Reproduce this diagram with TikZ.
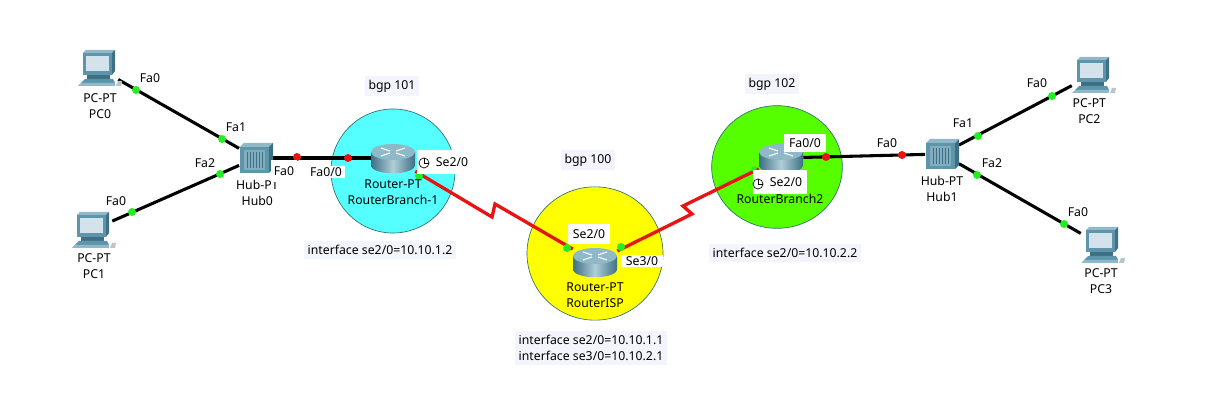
\documentclass[tikz,border=0pt]{standalone}
\usepackage{fontspec}
\setmainfont{Noto Sans}
\usetikzlibrary{shapes,positioning,calc}
\definecolor{zonecyan}{HTML}{55FFFF}
\definecolor{zoneyellow}{HTML}{FFFF00}
\definecolor{zonegreen}{HTML}{55FF00}
\definecolor{zoneline}{HTML}{2F6F6F}
\definecolor{linkred}{HTML}{E81414}
\definecolor{dotgreen}{HTML}{22EE22}
\definecolor{dotred}{HTML}{EE1111}
\definecolor{notebg}{HTML}{F4F5FC}
\definecolor{devmid}{HTML}{5F95AB}
\definecolor{devdark}{HTML}{3D7085}
\definecolor{devlight}{HTML}{8FB8C8}
\definecolor{devscreen}{HTML}{D3E2EB}
\tikzset{
  zone/.style={ellipse,draw=zoneline,line width=.5pt,inner sep=0pt},
  eth/.style={black,line width=2.3pt},
  serial/.style={linkred,line width=2.5pt},
  gdot/.style={circle,fill=dotgreen,inner sep=0pt,minimum size=6pt},
  rdot/.style={circle,fill=dotred,inner sep=0pt,minimum size=6pt},
  pcbox/.style={inner sep=0pt,minimum width=30pt,minimum height=27pt},
  hubbox/.style={inner sep=0pt,minimum width=25pt,minimum height=23pt},
  routerbox/.style={inner sep=0pt,minimum width=33pt,minimum height=22pt},
  devlabel/.style={align=center,font=\fontsize{9.2}{12}\selectfont,inner sep=0pt},
  portlabel/.style={fill=white,font=\fontsize{9.2}{12}\selectfont,inner xsep=2pt,inner ysep=1pt},
  note/.style={fill=notebg,align=center,font=\fontsize{9.2}{12}\selectfont,inner xsep=3pt,inner ysep=3pt},
  clockmark/.style={circle,draw=black,line width=.5pt,fill=white,inner sep=0pt,minimum size=7.5pt},
  pcicon/.pic={
    \fill[devlight] (-15,-15) -- (-12,-18) -- (17,-18) -- (14,-15) -- cycle;
    \fill[devdark] (14,-15) -- (17,-18) -- (17,3) -- (14,7) -- cycle;
    \fill[devmid] (-15,-15) rectangle (14,7);
    \fill[devscreen] (-12,-12) rectangle (11,3);
    \fill[devdark] (-11,7) rectangle (12,11);
    \fill[devmid] (-13,11) -- (15,11) -- (17,15) -- (-17,15) -- cycle;
    \fill[devlight] (-20,18) -- (-17,15) -- (17,15) -- (17,18) -- cycle;
    \fill[devscreen!70!gray] (18,18) -- (20,13) -- (24,13) -- (23,18) -- cycle;
  },
  hubicon/.pic={
    \fill[devlight] (-16,-11) -- (-12,-15) -- (17,-15) -- (13,-11) -- cycle;
    \fill[devdark] (13,-11) -- (17,-15) -- (17,11) -- (13,15) -- cycle;
    \fill[devmid] (-16,-11) rectangle (13,15);
    \fill[devlight!70!devmid] (-12,-8) rectangle (9,12);
    \foreach \xs in {-9,-6,-3,0,3,6}
      \draw[devdark,line width=.5pt] (\xs,-6) -- (\xs,10);
  },
  routericon/.pic={
    \path[left color=devdark,right color=devdark,middle color=devlight!70!white]
      (-22,-6) -- (-22,7) .. controls (-22,18) and (22,18) .. (22,7) -- (22,-6) -- cycle;
    \fill[devlight] (0,-6) ellipse [x radius=22,y radius=8];
    \draw[white,line width=.8pt] (-12,-10) -- (-3,-7) (12,-2) -- (3,-5) (-12,-2) -- (-3,-5) (12,-10) -- (3,-7);
  },
}
\begin{document}
\begin{tikzpicture}[x=.75pt,y=-.75pt]
      \useasboundingbox (0,0) rectangle (1214,402);

      \node[zone,fill=zonecyan,minimum width=93pt,minimum height=93pt](zone1) at (393,171){};
      \node[zone,fill=zoneyellow,minimum width=102pt,minimum height=100pt](zone0) at (595,253.5){};
      \node[zone,fill=zonegreen,minimum width=98pt,minimum height=92pt](zone2) at (777,167){};

      \node[pcbox](pc0) at (98,68){};
      \node[pcbox](pc1) at (92,230){};
      \node[pcbox](pc2) at (1092,75){};
      \node[pcbox](pc3) at (1101,245){};
      \node[hubbox](hub0) at (256,158){};
      \node[hubbox](hub1) at (942,154){};
      \node[routerbox](rbranch1) at (393,158){};
      \node[routerbox](risp) at (595,262){};
      \node[routerbox](rbranch2) at (781,158){};

      \coordinate(zig1) at (492,217);
      \coordinate(zig2) at (495,204);
      \coordinate(zig3) at (692,214);
      \coordinate(zig4) at (683,206);

      \draw[eth] (pc0) -- (hub0);
      \draw[eth] (pc1) -- (hub0);
      \draw[eth] (hub0) -- (rbranch1);
      \draw[eth] (rbranch2) -- (hub1);
      \draw[eth] (hub1) -- (pc2);
      \draw[eth] (hub1) -- (pc3);
      \draw[serial] (rbranch1) -- (zig1) -- (zig2) -- (risp);
      \draw[serial] (risp) -- (zig3) -- (zig4) -- (rbranch2);

      \node[gdot](dot1) at (136,90){};
      \node[gdot](dot2) at (222,139){};
      \node[gdot](dot3) at (220,174){};
      \node[gdot](dot4) at (132,212){};
      \node[rdot](dot5) at (297,157){};
      \node[rdot](dot6) at (348,158){};
      \node[gdot](dot7) at (419,176){};
      \node[gdot](dot8) at (567,248){};
      \node[gdot](dot9) at (621,247){};
      \node[gdot,minimum size=4pt](dot10) at (754,169){};
      \node[rdot](dot11) at (826,157){};
      \node[rdot](dot12) at (902,155){};
      \node[gdot](dot13) at (978,136){};
      \node[gdot](dot14) at (977,175){};
      \node[gdot](dot15) at (1052,96){};
      \node[gdot](dot16) at (1064,224){};

      \pic at (pc0) {pcicon};
      \pic at (pc1) {pcicon};
      \pic at (pc2) {pcicon};
      \pic at (pc3) {pcicon};
      \pic at (hub0) {hubicon};
      \pic at (hub1) {hubicon};
      \pic at (rbranch1) {routericon};
      \pic at (risp) {routericon};
      \pic at (rbranch2) {routericon};

      \node[devlabel,below=5pt of pc0,xshift=1.5pt](pc0name){PC-PT\\PC0};
      \node[devlabel,below=3.5pt of pc1,xshift=1.5pt](pc1name){PC-PT\\PC1};
      \node[devlabel,below=4pt of pc2,xshift=-2pt](pc2name){PC-PT\\PC2};
      \node[devlabel,below=4pt of pc3](pc3name){PC-PT\\PC3};
      \node[devlabel,below=5pt of hub0,xshift=1pt](hub0name){Hub-PT\\Hub0};
      \node[devlabel,below=5pt of hub1](hub1name){Hub-PT\\Hub1};
      \node[devlabel,below=5pt of rbranch1](rbranch1name){Router-PT\\RouterBranch-1};
      \node[devlabel,below=4.5pt of risp](rispname){Router-PT\\RouterISP};
      \node[devlabel](rbranch2name) at (780,199){RouterBranch2};

      \node[portlabel](fa0pc0) at (150,78){Fa0};
      \node[portlabel](fa1hub0) at (236,127){Fa1};
      \node[portlabel](fa2hub0) at (205,163){Fa2};
      \node[portlabel](fa0pc1) at (116,201){Fa0};
      \node[portlabel,minimum width=20pt,minimum height=17pt](fa0hub0) at (284,171){Fa0};
      \node[portlabel](fa00r1) at (326,172){Fa0/0};
      \node[portlabel,minimum width=39pt,minimum height=18pt](se20r1) at (444,162){\hspace{12pt}Se2/0};
      \node[clockmark](clock1) at (424,163){};
      \draw[line width=.5pt] (clock1.north) -- (clock1.center) -- (clock1.east);
      \node[portlabel,minimum width=31pt,minimum height=15pt](se20isp) at (589,234){Se2/0};
      \node[portlabel,minimum width=31pt](se30isp) at (642,261){Se3/0};
      \node[portlabel,minimum width=31pt,minimum height=14pt](fa00r2) at (805,143){Fa0/0};
      \node[portlabel,minimum width=40pt,minimum height=18pt](se20r2) at (780,182){\hspace{9pt}Se2/0};
      \node[clockmark](clock2) at (758,184){};
      \draw[line width=.5pt] (clock2.north) -- (clock2.center) -- (clock2.east);
      \node[portlabel](fa0hub1) at (887,143){Fa0};
      \node[portlabel](fa0pc2) at (1037,83){Fa0};
      \node[portlabel](fa1hub1) at (963,123){Fa1};
      \node[portlabel](fa2hub1) at (992,163){Fa2};
      \node[portlabel](fa0pc3) at (1078,212){Fa0};

      \node[note](bgp101) at (392,86){bgp 101};
      \node[note](bgp100) at (588,160){bgp 100};
      \node[note](bgp102) at (772,84){bgp 102};
      \node[note](ifr1) at (380,250){interface se2/0=10.10.1.2};
      \node[note](ifisp) at (591,348){interface se2/0=10.10.1.1\\interface se3/0=10.10.2.1};
      \node[note](ifr2) at (785,253){interface se2/0=10.10.2.2};
    \end{tikzpicture}
\end{document}
